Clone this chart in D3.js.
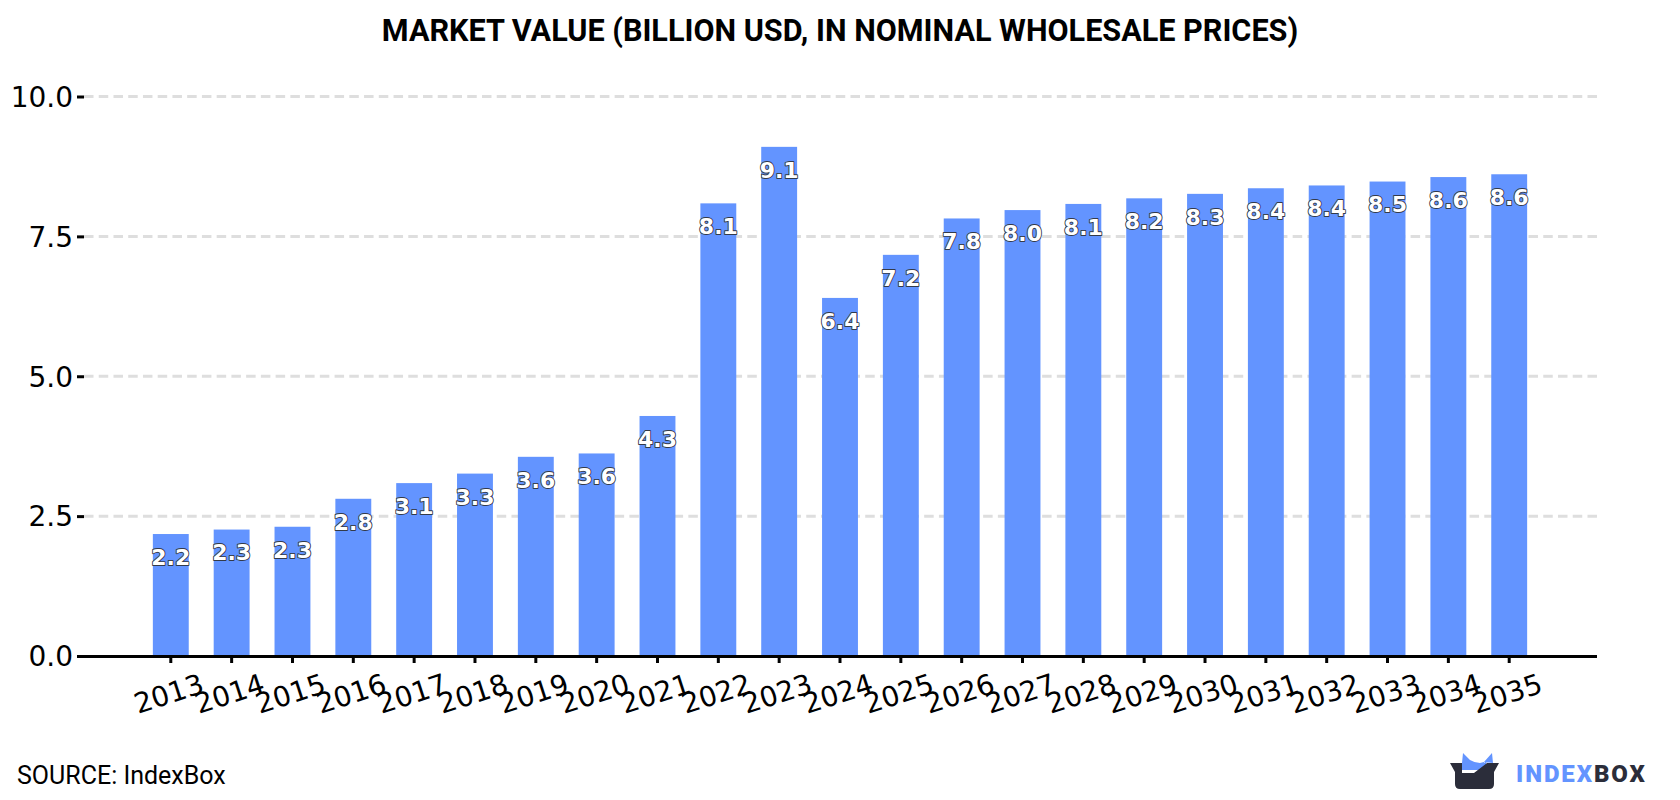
<!DOCTYPE html>
<html>
<head>
<meta charset="utf-8">
<script src="https://cdn.jsdelivr.net/npm/d3@7"></script>
<style>
  html, body { margin: 0; padding: 0; background: #fff; }
  svg { display: block; }
  .tick-text { font-family: "DejaVu Sans", sans-serif; font-size: 28px; fill: #000; }
</style>
</head>
<body>
<svg id="chart" width="1680" height="800"></svg>
<script>
const years = [2013, 2014, 2015, 2016, 2017, 2018, 2019, 2020, 2021, 2022, 2023, 2024,
               2025, 2026, 2027, 2028, 2029, 2030, 2031, 2032, 2033, 2034, 2035];
const marketValue = [2.18, 2.26, 2.31, 2.81, 3.09, 3.26, 3.56, 3.62, 4.29, 8.09, 9.10, 6.40,
                     7.17, 7.82, 7.97, 8.08, 8.18, 8.26, 8.36, 8.41, 8.48, 8.56, 8.61];
const yTicks = [0, 2.5, 5, 7.5, 10];
const titleText = "MARKET VALUE (BILLION USD, IN NOMINAL WHOLESALE PRICES)";
const sourceText = "SOURCE: IndexBox";

const BLUE = "#6394ff";
const DARK = "#2b2d3a";
const svg = d3.select("#chart");

const plot = { left: 84, right: 1597, top: 96.5, bottom: 656 };

const x = d3.scaleBand()
  .domain(years)
  .range([plot.left - 0.5, plot.right - 0.5])
  .paddingInner(0.41)
  .paddingOuter(1.14);

const y = d3.scaleLinear()
  .domain([0, 10])
  .range([plot.bottom, plot.top]);

// Dashed horizontal gridlines sit behind the bars
svg.append("g")
  .selectAll("line")
  .data(yTicks.filter(d => d > 0))
  .join("line")
  .attr("x1", plot.left)
  .attr("x2", plot.right)
  .attr("y1", d => y(d))
  .attr("y2", d => y(d))
  .attr("stroke", "#dedede")
  .attr("stroke-width", 3)
  .attr("stroke-dasharray", "9.5,5.24");

svg.append("g")
  .selectAll("rect")
  .data(years.map((year, i) => ({ year, value: marketValue[i] })))
  .join("rect")
  .attr("x", d => x(d.year))
  .attr("width", x.bandwidth())
  .attr("y", d => y(d.value))
  .attr("height", d => y(0) - y(d.value))
  .attr("fill", BLUE);

// Left axis: short ticks, no spine
const yAxis = svg.append("g")
  .attr("transform", `translate(${plot.left},0)`)
  .call(d3.axisLeft(y).tickValues(yTicks).tickFormat(d3.format(".1f")).tickSize(7).tickPadding(4));
yAxis.select(".domain").remove();
yAxis.selectAll(".tick line").attr("stroke", "#000").attr("stroke-width", 3);
yAxis.selectAll(".tick text").attr("class", "tick-text").attr("dy", "0.35em");

// Bottom axis with slanted year labels
const xAxis = svg.append("g")
  .attr("transform", `translate(0,${plot.bottom})`)
  .call(d3.axisBottom(x).tickSize(7).tickSizeOuter(0));
xAxis.select(".domain").attr("stroke", "#000").attr("stroke-width", 3);
xAxis.selectAll(".tick line").attr("stroke", "#000").attr("stroke-width", 3);
xAxis.selectAll(".tick text")
  .attr("class", "tick-text")
  .attr("text-anchor", "middle")
  .attr("dy", null)
  .attr("y", 0)
  .attr("transform", "translate(1,47) rotate(-18)");

// Value labels inside the top of each bar
svg.append("g")
  .selectAll("text")
  .data(years.map((year, i) => ({ year, value: marketValue[i] })))
  .join("text")
  .attr("x", d => x(d.year) + x.bandwidth() / 2)
  .attr("y", d => y(d.value) + 23)
  .attr("dy", "0.36em")
  .attr("text-anchor", "middle")
  .attr("font-family", "'DejaVu Sans', sans-serif")
  .attr("font-weight", "bold")
  .attr("font-size", 22)
  .attr("fill", "#fff")
  .attr("stroke", "#333a48")
  .attr("stroke-width", 1.8)
  .attr("paint-order", "stroke")
  .attr("stroke-linejoin", "round")
  .text(d => d3.format(".1f")(d.value));

svg.append("text")
  .attr("x", 840)
  .attr("y", 30)
  .attr("dy", "0.35em")
  .attr("text-anchor", "middle")
  .attr("font-family", "Roboto, sans-serif")
  .attr("font-weight", "bold")
  .attr("font-size", 30.6)
  .attr("fill", "#000")
  .text(titleText);

svg.append("text")
  .attr("x", 17)
  .attr("y", 784)
  .attr("font-family", "Roboto, sans-serif")
  .attr("font-size", 25)
  .attr("fill", "#000")
  .text(sourceText);

// Brand mark: an open box with a blue shape rising out of it, plus the wordmark
const logo = svg.append("g");
logo.append("path")
  .attr("fill", BLUE)
  .attr("d", "M1462,763 L1463,753 L1470,760 Q1475,763 1480,763 L1484,762 L1484,763 L1488,760 L1486,763 L1486,770 L1462,770 Z M1484,762 L1492,753 L1493,763 Z");
logo.append("path")
  .attr("fill", DARK)
  .attr("d", "M1450,763 L1462,763 L1462,773 L1474,773 L1487,763 L1499,763 L1494,772 L1494,784 Q1494,789 1489,789 L1460,789 Q1455,789 1455,784 L1455,772 Z");
const word = logo.append("text")
  .attr("x", 1516)
  .attr("y", 782)
  .attr("font-family", "Roboto, sans-serif")
  .attr("font-weight", 900)
  .attr("font-size", 24)
  .attr("letter-spacing", 1.9);
word.append("tspan").attr("fill", BLUE).text("INDEX");
word.append("tspan").attr("fill", DARK).text("BOX");
</script>
</body>
</html>
